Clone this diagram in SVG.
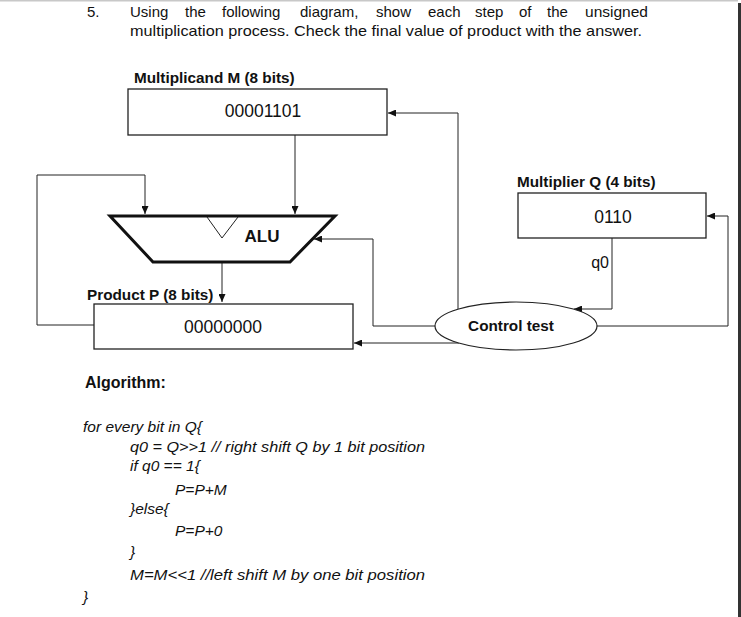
<svg xmlns="http://www.w3.org/2000/svg" width="741" height="617" viewBox="0 0 741 617">
<style>
text{font-family:"Liberation Sans",Arial,sans-serif;fill:#111}
.hdr{font-size:15px}
.lbl{font-size:15.3px;font-weight:bold}
.val{font-size:17.5px}
.alg{font-size:15.5px;font-style:italic}
.box{fill:#fff;stroke:#222;stroke-width:1.3}
.con{fill:none;stroke:#222;stroke-width:1}
</style>
<defs>
<marker id="ah" markerUnits="userSpaceOnUse" markerWidth="8" markerHeight="7" refX="8" refY="3.5" orient="auto">
<path d="M0,0 L8,3.5 L0,7 z" fill="#111"/>
</marker>
</defs>
<rect x="0" y="0" width="741" height="617" fill="#fff"/>
<rect x="0" y="0" width="738" height="1.5" fill="#c8c8c8"/>
<rect x="738" y="3" width="3" height="614" fill="#333"/>

<g id="header">
<text class="hdr" x="87" y="17">5.</text>
<text class="hdr" x="130" y="17">Using</text>
<text class="hdr" x="185" y="17">the</text>
<text class="hdr" x="222" y="17">following</text>
<text class="hdr" x="300" y="17">diagram,</text>
<text class="hdr" x="376" y="17">show</text>
<text class="hdr" x="428" y="17">each</text>
<text class="hdr" x="475" y="17">step</text>
<text class="hdr" x="519" y="17">of</text>
<text class="hdr" x="547" y="17">the</text>
<text class="hdr" x="585" y="17" textLength="63" lengthAdjust="spacingAndGlyphs">unsigned</text>
<text class="hdr" x="130" y="36" textLength="512" lengthAdjust="spacingAndGlyphs">multiplication process. Check the final value of product with the answer.</text>
</g>

<g id="connectors">
<path class="con" d="M295,135 V214" marker-end="url(#ah)"/>
<path class="con" d="M94,325 H37 V175 H145 V214" marker-end="url(#ah)"/>
<path class="con" d="M222,263 V302" marker-end="url(#ah)"/>
<path class="con" d="M435,326 H373 V239 H314" marker-end="url(#ah)"/>
<path class="con" d="M458,309 V113 H388" marker-end="url(#ah)"/>
<path class="con" d="M459,343 H354" marker-end="url(#ah)"/>
<path class="con" d="M612,238 V309 H574" marker-end="url(#ah)"/>
<path class="con" d="M597,326 H728 V216 H707" marker-end="url(#ah)"/>
</g>

<g id="multiplicand">
<text class="lbl" x="134" y="83">Multiplicand M (8 bits)</text>
<rect class="box" x="128" y="89" width="259" height="46"/>
<text class="val" x="263" y="117" text-anchor="middle">00001101</text>
</g>

<g id="alu">
<polygon points="110,216 335,216 290,262 153,262" fill="#fff" stroke="#111" stroke-width="3" stroke-linejoin="miter"/>
<polyline points="207,217 222,238 238,217" fill="none" stroke="#222" stroke-width="1"/>
<text class="lbl" x="262" y="242" text-anchor="middle" style="font-size:17px">ALU</text>
</g>

<g id="product">
<text class="lbl" x="87" y="300">Product P (8 bits)</text>
<rect class="box" x="94" y="304" width="259" height="45"/>
<text class="val" x="223" y="333" text-anchor="middle">00000000</text>
</g>

<g id="multiplier">
<text class="lbl" x="517" y="187">Multiplier Q (4 bits)</text>
<rect class="box" x="518" y="193" width="188" height="45"/>
<text class="val" x="613" y="223" text-anchor="middle">0110</text>
<text class="val" x="609" y="268" text-anchor="end" style="font-size:16px">q0</text>
</g>

<g id="control">
<ellipse cx="516" cy="326" rx="81" ry="24" fill="#fff" stroke="#222" stroke-width="1.2"/>
<text class="lbl" x="511" y="331" text-anchor="middle">Control test</text>
</g>

<g id="algorithm">
<text class="lbl" x="85" y="388" style="font-size:16px">Algorithm:</text>
<text class="alg" x="83" y="432">for every bit in Q{</text>
<text class="alg" x="130" y="452" textLength="295" lengthAdjust="spacingAndGlyphs">q0 = Q&gt;&gt;1 // right shift Q by 1 bit position</text>
<text class="alg" x="130" y="471">if q0 == 1{</text>
<text class="alg" x="175" y="495">P=P+M</text>
<text class="alg" x="130" y="514">}else{</text>
<text class="alg" x="175" y="536">P=P+0</text>
<text class="alg" x="130" y="557">}</text>
<text class="alg" x="130" y="580" textLength="295" lengthAdjust="spacingAndGlyphs">M=M&lt;&lt;1 //left shift M by one bit position</text>
<text class="alg" x="83" y="602">}</text>
</g>
</svg>
